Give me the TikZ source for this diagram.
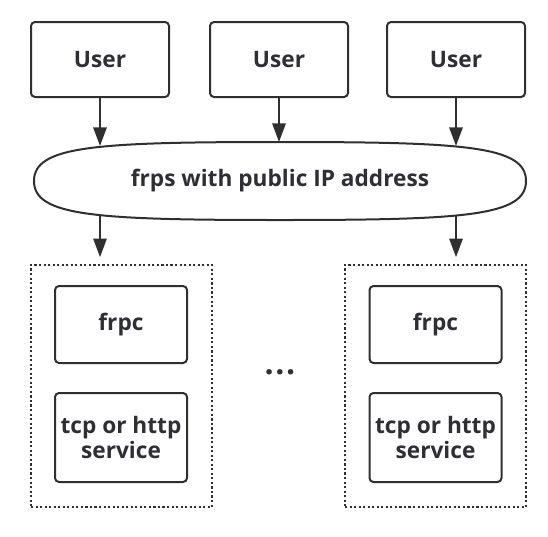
\documentclass[tikz,border=0pt]{standalone}
\usepackage{fontspec}
\setmainfont{Open Sans}
\usetikzlibrary{arrows.meta}
\definecolor{ink}{HTML}{2F2F2F}
\definecolor{txt}{HTML}{2E2E33}
\tikzset{
  lbl/.style={font=\bfseries\fontsize{17pt}{18.75pt}\selectfont, text=txt, align=center},
  box/.style={lbl, draw=ink, line width=1.5pt, rounded corners=3pt, inner sep=0pt},
  userbox/.style={box, minimum width=103.5pt, minimum height=56.25pt},
  frpcbox/.style={box, minimum width=99pt, minimum height=57.75pt},
  svcbox/.style={box, minimum width=99pt, minimum height=66.75pt},
  group/.style={draw=ink, line width=1.7pt, dash pattern=on 1.6pt off 1.8pt, minimum width=135.75pt, minimum height=181.5pt, inner sep=0pt},
  arr/.style={draw=ink, line width=1.5pt, -{Triangle[length=14pt,width=10pt]}},
}
\begin{document}
\begin{tikzpicture}[x=0.75pt,y=-0.75pt]
\useasboundingbox (0,0) rectangle (548,536);

% users
\node[userbox] (u1) at (100,59.5) {User};
\node[userbox] (u2) at (279,59.5) {User};
\node[userbox] (u3) at (456,59.5) {User};

% server ellipse
\draw[ink, line width=1.5pt]
  (34,181) .. controls (34,146) and (95,142) .. (280,142)
           .. controls (465,142) and (526,146) .. (526,181)
           .. controls (526,216) and (465,220) .. (280,220)
           .. controls (95,220) and (34,216) .. (34,181) -- cycle;
\node[lbl] (frps) at (280,181) {frps with public IP address};
\coordinate (e1) at (100,146);
\coordinate (e2) at (279,142);
\coordinate (e3) at (456,146);
\coordinate (b1) at (100,216);
\coordinate (b3) at (456,216);

% client groups
\node[group] (g1) at (121.5,386) {};
\node[group] (g2) at (435.5,386) {};
\node[frpcbox] (c1) at (121,324.5) {frpc};
\node[frpcbox] (c2) at (435.5,324.5) {frpc};
\node[svcbox] (s1) at (121,437.5) {tcp or http\\service};
\node[svcbox] (s2) at (435.5,437.5) {tcp or http\\service};
\node[lbl, font=\bfseries\fontsize{24pt}{26pt}\selectfont] (dots) at (280,372) {.\kern1.2pt.\kern1.2pt.};

% connectors
\draw[arr] (u1.south) -- (e1);
\draw[arr] (u2.south) -- (e2);
\draw[arr] (u3.south) -- (e3);
\draw[arr, shorten >=5pt] (b1) -- (b1 |- g1.north);
\draw[arr, shorten >=5pt] (b3) -- (b3 |- g2.north);
\end{tikzpicture}
\end{document}
